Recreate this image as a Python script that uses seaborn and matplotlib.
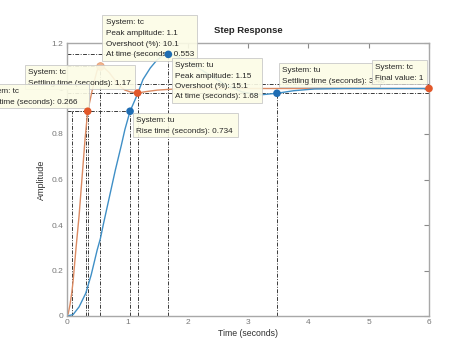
import matplotlib
matplotlib.use("Agg")
import matplotlib.pyplot as plt
from matplotlib.patches import Rectangle
import pandas as pd
import seaborn as sns

# step responses, values
tc_time = [0, 0.02, 0.05, 0.078, 0.10, 0.15, 0.20, 0.25, 0.30, 0.343, 0.40, 0.45,
           0.50, 0.553, 0.60, 0.70, 0.80, 0.90, 0.96, 1.05, 1.17, 1.30, 1.50,
           1.80, 2.50, 6.0]
tc_amp = [0, 0.01, 0.05, 0.10, 0.15, 0.30, 0.44, 0.61, 0.78, 0.90, 0.97, 1.03,
          1.08, 1.10, 1.095, 1.07, 1.035, 1.005, 0.993, 0.985, 0.98, 0.986, 0.993,
          0.998, 1.0, 1.0]

tu_time = [0, 0.10, 0.20, 0.311, 0.40, 0.50, 0.553, 0.60, 0.70, 0.80, 0.90, 0.96,
           1.045, 1.16, 1.26, 1.38, 1.49, 1.58, 1.68, 1.80, 2.00, 2.30, 2.60, 2.90,
           3.20, 3.48, 3.75, 4.10, 4.60, 6.0]
tu_amp = [0, 0.006, 0.04, 0.10, 0.18, 0.29, 0.34, 0.40, 0.52, 0.64, 0.75, 0.82,
          0.90, 0.97, 1.04, 1.09, 1.125, 1.143, 1.15, 1.145, 1.12, 1.07, 1.02, 0.985,
          0.972, 0.979, 0.99, 0.998, 1.0, 1.0]

# characteristics (tc, tu)
systems = ["tc", "tu"]
rise_t10 = [0.078, 0.311]
rise_t90 = [0.343, 1.045]
rise_level = 0.9
peak_time = [0.553, 1.68]
peak_amp = [1.10, 1.15]
settle_time = [1.17, 3.48]
settle_amp = [0.98, 0.979]
settle_band = [0.98, 1.02]
final_time = 6.0
final_amp = 1.0

x_ticks = [0, 1, 2, 3, 4, 5, 6]
y_ticks = [0, 0.2, 0.4, 0.6, 0.8, 1.0, 1.2]
y_labels = ["0", "0.2", "0.4", "0.6", "0.8", "1", "1.2"]

tips = {
    "tc_peak": ["System: tc", "Peak amplitude: 1.1", "Overshoot (%): 10.1",
                "At time (seconds): 0.553"],
    "tu_peak": ["System: tu", "Peak amplitude: 1.15", "Overshoot (%): 15.1",
                "At time (seconds): 1.68"],
    "tc_settle": ["System: tc", "Settling time (seconds): 1.17"],
    "tc_rise": ["System: tc", "Rise time (seconds): 0.266"],
    "tu_rise": ["System: tu", "Rise time (seconds): 0.734"],
    "tu_settle": ["System: tu", "Settling time (seconds): 3.48"],
    "tc_final": ["System: tc", "Final value: 1"],
}

W, H = 474, 355
BLUE_LINE, ORANGE_LINE = "#3f8fc6", "#db8a62"
BLUE_DOT, ORANGE_DOT = "#1f6db3", "#e2582a"
REF = dict(color="#3a3a3a", lw=0.7, ls=(0, (4, 1.5, 1, 1.5)), zorder=1.5)

sns.set_theme(style="white")
plt.rcParams["font.family"] = ["Liberation Sans", "DejaVu Sans"]

fig = plt.figure(figsize=(W / 100, H / 100), dpi=100)
ax = fig.add_axes([67 / W, 1 - 316 / H, (429 - 67) / W, (316 - 43) / H])

df = pd.concat([
    pd.DataFrame({"time": tc_time, "amplitude": tc_amp, "system": "tc"}),
    pd.DataFrame({"time": tu_time, "amplitude": tu_amp, "system": "tu"}),
])
sns.lineplot(data=df, x="time", y="amplitude", hue="system", sort=False,
             estimator=None, palette={"tc": ORANGE_LINE, "tu": BLUE_LINE},
             lw=1.0, legend=False, ax=ax, zorder=2)

# characteristic guide lines
for i in range(2):
    ax.plot([0, rise_t90[i]], [rise_level, rise_level], **REF)
    ax.plot([rise_t10[i], rise_t10[i]], [0, rise_level], **REF)
    ax.plot([rise_t90[i], rise_t90[i]], [0, rise_level], **REF)
    ax.plot([0, peak_time[i]], [peak_amp[i], peak_amp[i]], **REF)
    ax.plot([peak_time[i], peak_time[i]], [0, peak_amp[i]], **REF)
    ax.plot([settle_time[i], settle_time[i]], [0, settle_amp[i]], **REF)
for lvl in settle_band:
    ax.plot([0, final_time], [lvl, lvl], **REF)

# markers
pts = pd.DataFrame({
    "time": rise_t90 + settle_time + [peak_time[1], final_time],
    "amplitude": [rise_level, rise_level] + settle_amp + [peak_amp[1], final_amp],
    "system": systems + systems + ["tu", "tc"],
})
sns.scatterplot(data=pts, x="time", y="amplitude", hue="system",
                palette={"tc": ORANGE_DOT, "tu": BLUE_DOT}, s=30, linewidth=0,
                legend=False, ax=ax, zorder=30, clip_on=False)
# tc peak marker sits faded under a tip box
ax.scatter([peak_time[0]], [peak_amp[0]], s=30, color="#f2b48e",
           edgecolor="#e39a70", linewidth=0.6, zorder=3)

ax.set_xlim(0, 6)
ax.set_ylim(0, 1.2)
ax.set_xticks(x_ticks)
ax.set_yticks(y_ticks)
ax.set_yticklabels(y_labels)
ax.tick_params(direction="in", length=3.5, width=0.8, color="#8a8a8a",
               labelsize=6, labelcolor="#777777", pad=2.5,
               top=True, right=True)
for sp in ax.spines.values():
    sp.set_visible(True)
    sp.set_color("#a8a8a8")
    sp.set_linewidth(1.0)
ax.set_xlabel("Time (seconds)", fontsize=6.3, color="#303030", labelpad=1.5)
ax.set_ylabel("Amplitude", fontsize=6.5, color="#303030", labelpad=4)
ax.set_title("Step Response", fontsize=6.8, fontweight="bold", pad=7)


def fx(x):
    return x / W


def fy(y):
    return 1 - y / H


def tip(lines, left, top, right, z, text_x=None, first=7.8, step=10.6):
    bottom = top + first + step * (len(lines) - 1) + 6
    rect = Rectangle((fx(left), fy(bottom)), fx(right) - fx(left), fy(top) - fy(bottom),
                     transform=fig.transFigure, facecolor="#fcfce6", edgecolor="#c4c4c4",
                     lw=0.6, alpha=0.9, zorder=z, clip_on=False)
    ax.add_patch(rect)
    tx = left + 3 if text_x is None else text_x
    for k, s in enumerate(lines):
        ax.text(fx(tx), fy(top + first + step * k), s, transform=fig.transFigure,
                fontsize=5.9, color="#262626", va="center", ha="left",
                zorder=z + 1, clip_on=False)


tip(tips["tc_peak"], 102, 15, 197, 10, text_x=106)
tip(tips["tu_peak"], 172, 58, 262, 12, text_x=175, step=10.3)
tip(tips["tc_settle"], 25, 65, 135, 14)
tip(tips["tc_rise"], -22, 84, 89, 16, text_x=-19)
tip(tips["tu_rise"], 133, 113, 238, 18)
tip(tips["tu_settle"], 279, 63, 380, 20)
tip(tips["tc_final"], 372, 60, 427, 22)

fig.savefig("out.png", dpi=100)
